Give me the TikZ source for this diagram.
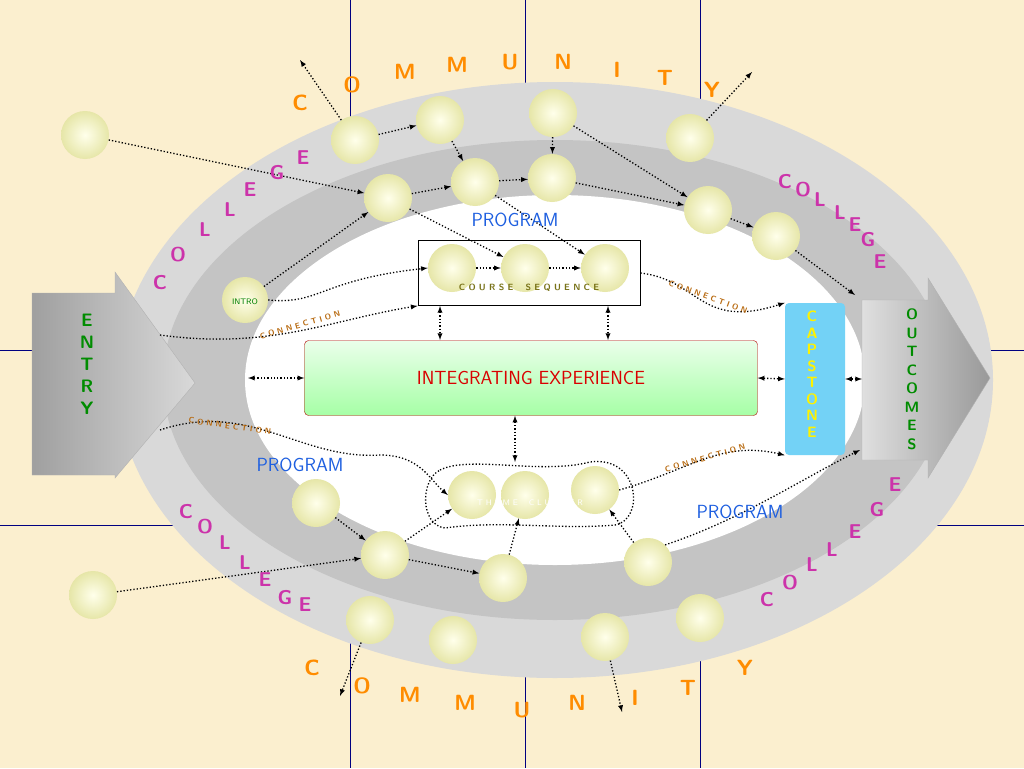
\documentclass[tikz,border=0pt]{standalone}
\usepackage{tikz}
\usetikzlibrary{arrows}
\usetikzlibrary{calc}
\usetikzlibrary{positioning}
\definecolor{paper}{HTML}{FBEFCF}
\definecolor{marble}{HTML}{D9D9D9}
\definecolor{band}{HTML}{C4C4C4}
\definecolor{ballc}{HTML}{E6E6A8}
\definecolor{commc}{HTML}{FF8C00}
\definecolor{collc}{HTML}{CC33AA}
\definecolor{progc}{HTML}{1E5FE0}
\definecolor{connc}{HTML}{B86A10}
\tikzset{ball/.style={circle,minimum size=48pt,inner sep=0pt,shade,inner color=yellow!8,outer color=ballc},
  flow/.style={-latex,dotted,line width=1.3pt},
  dbl/.style={latex-latex,dotted,line width=1.3pt},
  comm/.style={text=commc,font=\sffamily\bfseries\fontsize{22}{22}\selectfont},
  coll/.style={text=collc,font=\sffamily\bfseries\fontsize{20}{20}\selectfont},
  prog/.style={text=progc,font=\sffamily\fontsize{19}{19}\selectfont},
  conn/.style={text=connc,font=\sffamily\bfseries\fontsize{8}{8}\selectfont}}
\begin{document}
\begin{tikzpicture}[x=1pt,y=-1pt]
        \useasboundingbox (0,0) rectangle (1024,768);
        \fill[paper] (0,0) rectangle (1024,768);
        \foreach \gx in {350,525,700} \draw[blue!50!black] (\gx,0) -- (\gx,768);
        \foreach \gy in {350,525} \draw[blue!50!black] (0,\gy) -- (1024,\gy);
        % rings
        \fill[marble] (555,380) ellipse (438 and 298);
        \fill[band] (555,380) ellipse (392 and 240);
        \fill[white] (555,380) ellipse (310 and 185);
        % entry and outcomes
        \shade[left color=gray!75,right color=gray!30,draw=gray!60] (32,293) -- (115,293) -- (115,272) -- (195,383)
          -- (115,478) -- (115,475) -- (32,475) -- cycle;
        \shade[left color=gray!25,right color=gray!80,draw=gray!60] (862,300) -- (928,300) -- (928,278) -- (990,378)
          -- (928,478) -- (928,460) -- (862,460) -- cycle;
        \foreach \ch [count=\i] in {E,N,T,R,Y}
          \node[text=green!55!black,font=\sffamily\bfseries\fontsize{18}{18}\selectfont] at (87,298+22*\i) {\ch};
        \foreach \ch [count=\i] in {O,U,T,C,O,M,E,S}
          \node[text=green!55!black,font=\sffamily\bfseries\fontsize{15}{15}\selectfont] at (912,296+18.5*\i) {\ch};
        % centre boxes
        \node[draw=red!70!black,rounded corners=4pt,minimum width=453pt,minimum height=75pt,shade,top color=green!8,bottom color=green!35,
          text=red!85!black,font=\sffamily\fontsize{19}{19}\selectfont] (integ) at (531,378) {INTEGRATING EXPERIENCE};
        \node[fill=cyan!55,rounded corners=4pt,minimum width=60pt,minimum height=152pt] (cap) at (815,379) {};
        \foreach \ch [count=\i] in {C,A,P,S,T,O,N,E}
          \node[text=yellow,font=\sffamily\bfseries\fontsize{15}{15}\selectfont] at (812,300+16.5*\i) {\ch};
        \node[draw,thick,minimum width=222pt,minimum height=65pt] (seq) at (529,273) {};
        \node[ball] (s1) at (452,268) {};
        \node[ball] (s2) at (525,268) {};
        \node[ball] (s3) at (605,268) {};
        \node[text=olive!80!black,font=\sffamily\bfseries\fontsize{9}{9}\selectfont] at (529,288) {C O U R S E \quad S E Q U E N C E};
        \draw[flow] (s1) -- (s2);
        \draw[flow] (s2) -- (s3);
        % theme cluster
        \node[ball] (t1) at (472,495) {};
        \node[ball] (t2) at (525,495) {};
        \node[ball] (t3) at (595,490) {};
        \draw[line width=1.3pt,dotted] (440,470) .. controls (470,455) and (540,475) .. (590,462) .. controls (640,455) and (645,520) .. (615,525)
          .. controls (560,530) and (500,520) .. (445,528) .. controls (420,525) and (420,480) .. (440,470);
        \node[text=white,font=\sffamily\fontsize{8}{8}\selectfont] at (530,503) {T H E M E \quad C L U S T E R};
        % outer balls
        \node[ball] (a0) at (85,135) {};
        \node[ball] (a1) at (355,140) {};
        \node[ball] (a2) at (440,120) {};
        \node[ball] (a3) at (553,113) {};
        \node[ball] (a4) at (690,138) {};
        \node[ball] (b1) at (388,198) {};
        \node[ball] (b2) at (475,182) {};
        \node[ball] (b3) at (552,178) {};
        \node[ball] (b4) at (708,210) {};
        \node[ball] (b5) at (776,236) {};
        \node[ball,minimum size=46pt] (intro) at (245,300) {};
        \node[text=green!50!black,font=\sffamily\fontsize{8}{8}\selectfont] at (245,302) {INTRO};
        \node[ball] (c1) at (316,503) {};
        \node[ball] (c2) at (385,555) {};
        \node[ball] (c3) at (503,578) {};
        \node[ball] (c4) at (648,562) {};
        \node[ball] (d0) at (93,595) {};
        \node[ball] (d1) at (370,620) {};
        \node[ball] (d2) at (453,640) {};
        \node[ball] (d3) at (605,637) {};
        \node[ball] (d4) at (700,618) {};
        \coordinate (up1) at (300,60);
        \coordinate (up2) at (752,72);
        \coordinate (dn1) at (340,696);
        \coordinate (dn2) at (622,712);
        % connectors
        \draw[flow] (a0) -- (b1);
        \draw[flow] (a1) -- (up1);
        \draw[flow] (a4) -- (up2);
        \draw[flow] (a1) -- (a2);
        \draw[flow] (a2) -- (b2);
        \draw[flow] (a3) -- (b3);
        \draw[flow] (a3) -- (b4);
        \draw[flow] (b1) -- (b2);
        \draw[flow] (b2) -- (b3);
        \draw[flow] (b3) -- (b4);
        \draw[flow] (b4) -- (b5);
        \draw[flow] (b5) -- (855,295);
        \draw[flow] (intro) -- (b1);
        \draw[flow] (b1) -- (s2);
        \draw[flow] (b2) -- (s3);
        \draw[flow] (intro.east) .. controls (320,305) and (320,280) .. (s1.west);
        \draw[flow] (160,335) .. controls (270,350) and (330,320) .. (seq.south west);
        \draw[flow] (seq.east) .. controls (700,280) and (700,330) .. (cap.north west);
        \draw[flow] (160,430) .. controls (250,400) and (300,460) .. (380,455) .. controls (420,455) and (430,480) .. (t1.west);
        \draw[flow] (t3.east) .. controls (690,470) and (720,440) .. (cap.south west);
        \draw[dbl] (440,306) -- (440,340);
        \draw[dbl] (608,306) -- (608,340);
        \draw[dbl] (integ.west) -- (248,378);
        \draw[dbl] (integ.east) -- (cap.west);
        \draw[dbl] (cap.east) -- (862,379);
        \draw[dbl] (integ.south -| 515,0) -- (515,462);
        \draw[flow] (d0) -- (c2);
        \draw[flow] (c1) -- (c2);
        \draw[flow] (c2) -- (t1);
        \draw[flow] (c2) -- (c3);
        \draw[flow] (c3) -- (t2);
        \draw[flow] (c4) -- (t3);
        \draw[flow] (c4.north east) .. controls (740,520) and (800,480) .. (860,450);
        \draw[flow] (d1) -- (dn1);
        \draw[flow] (d3) -- (dn2);
        % connection labels
        \node[conn,rotate=16] at (300,325) {C O N N E C T I O N};
        \node[conn,rotate=-20] at (708,297) {C O N N E C T I O N};
        \node[conn,rotate=-8] at (230,426) {C O N N E C T I O N};
        \node[conn,rotate=16] at (705,458) {C O N N E C T I O N};
        % labels
        \node[prog] at (515,220) {PROGRAM};
        \node[prog] at (300,465) {PROGRAM};
        \node[prog] at (740,512) {PROGRAM};
        \foreach \ch/\px/\py in {C/300/103,O/352/85,M/405/72,M/457/65,U/510/62,N/563/62,I/617/70,T/665/78,Y/712/90,
          C/312/668,O/362/686,M/410/695,M/465/703,U/522/710,N/577/703,I/635/698,T/688/688,Y/745/668}
          \node[comm] at (\px,\py) {\ch};
        \foreach \ch/\px/\py in {C/160/283,O/178/255,L/205/230,L/230/210,E/250/190,G/277/173,E/303/158,
          C/785/182,O/803/190,L/820/200,L/840/213,E/855/225,G/868/240,E/880/262,
          C/186/512,O/205/527,L/225/543,L/245/563,E/265/580,G/285/598,E/305/605,
          C/767/600,O/790/583,L/812/565,L/832/550,E/855/532,G/877/510,E/895/485}
          \node[coll] at (\px,\py) {\ch};
\end{tikzpicture}
\end{document}
